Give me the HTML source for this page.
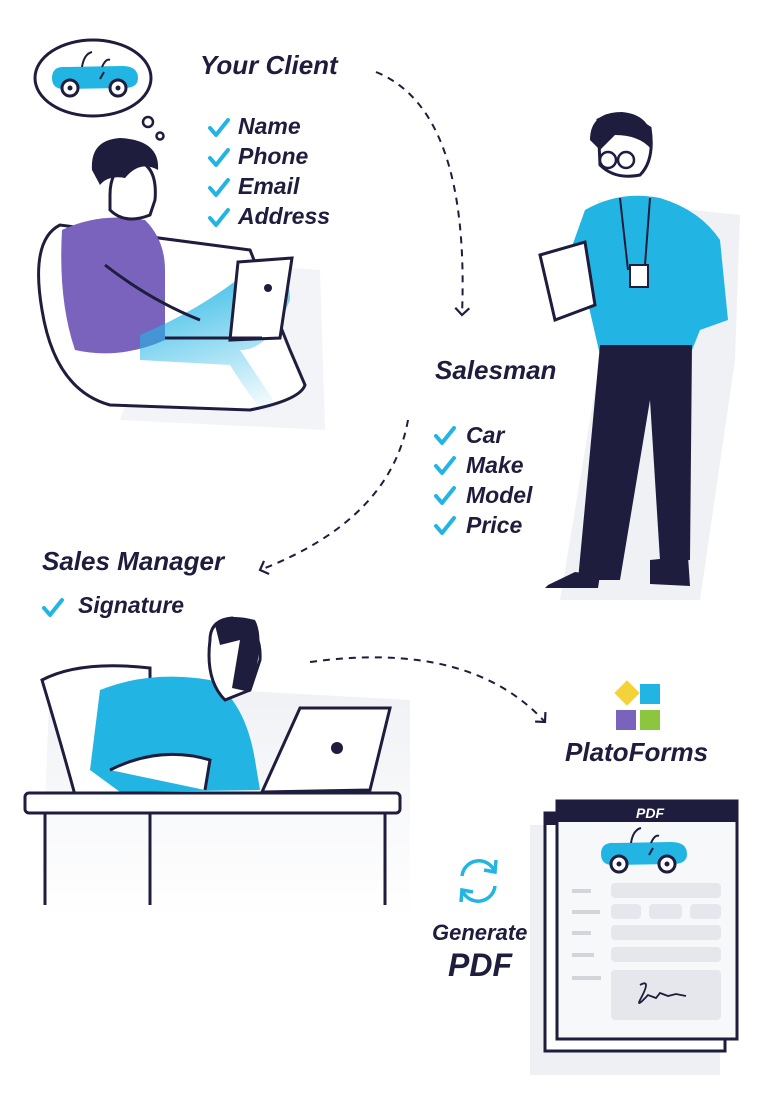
<!DOCTYPE html>
<html><head><meta charset="utf-8"><style>
html,body{margin:0;padding:0;background:#fff;}
svg{display:block}
.t{font-family:"Liberation Sans",sans-serif;font-style:italic;font-weight:bold;fill:#1f1d3d;}
</style></head><body>
<svg width="770" height="1098" viewBox="0 0 770 1098" xmlns="http://www.w3.org/2000/svg">
<defs>
<marker id="ah" markerWidth="20" markerHeight="20" refX="9" refY="9" orient="auto" markerUnits="userSpaceOnUse">
<path d="M2 2 L9 9 L2 16" fill="none" stroke="#1f1d3d" stroke-width="2.2"/></marker>
<linearGradient id="fade" x1="0" y1="0" x2="0" y2="1"><stop offset="0" stop-color="#e9ebf0"/><stop offset="1" stop-color="#fff"/></linearGradient>
<linearGradient id="legfade" x1="0" y1="0" x2="0.3" y2="1"><stop offset="0" stop-color="#22b5e4"/><stop offset="1" stop-color="#22b5e4" stop-opacity="0"/></linearGradient>
<g id="car"><path d="M0 14 Q0 2 14 3 L70 2 Q86 2 86 14 Q86 24 72 24 L12 25 Q0 25 0 14Z" fill="#22b5e4"/>
<circle cx="18" cy="24" r="8" fill="#fff" stroke="#1f1d3d" stroke-width="3"/><circle cx="18" cy="24" r="2.5" fill="#1f1d3d"/>
<circle cx="66" cy="24" r="8" fill="#fff" stroke="#1f1d3d" stroke-width="3"/><circle cx="66" cy="24" r="2.5" fill="#1f1d3d"/>
<path d="M30 3 Q32 -10 40 -12 M50 3 Q54 -6 58 -4 M52 8 L48 15" stroke="#1f1d3d" stroke-width="2" fill="none"/></g>
<g id="chk"><path d="M0 8 L6 15 L18 0" stroke="#22b5e4" stroke-width="4" fill="none" stroke-linecap="round" stroke-linejoin="round"/></g>
</defs>

<!-- shadows -->
<path d="M598 200 L740 215 L735 360 L700 600 L560 600 L600 360Z" fill="#f0f1f5"/>
<path d="M180 260 L320 270 L325 430 L120 420Z" fill="#f3f4f7"/>
<path d="M50 680 L410 700 L410 920 L40 920Z" fill="url(#fade)" opacity="0.7"/>
<rect x="530" y="825" width="190" height="250" fill="#eef0f4"/>

<!-- thought bubble -->
<ellipse cx="93" cy="78" rx="58" ry="38" fill="#fff" stroke="#1f1d3d" stroke-width="3"/>
<circle cx="148" cy="122" r="5" fill="#fff" stroke="#1f1d3d" stroke-width="2.5"/>
<circle cx="160" cy="136" r="3.5" fill="#fff" stroke="#1f1d3d" stroke-width="2.5"/>
<use href="#car" x="52" y="64"/>

<text class="t" x="200" y="74" font-size="26">Your Client</text>
<use href="#chk" x="210" y="120"/><text class="t" x="238" y="134" font-size="23">Name</text>
<use href="#chk" x="210" y="150"/><text class="t" x="238" y="164" font-size="23">Phone</text>
<use href="#chk" x="210" y="180"/><text class="t" x="238" y="194" font-size="23">Email</text>
<use href="#chk" x="210" y="210"/><text class="t" x="238" y="224" font-size="23">Address</text>

<path d="M376 72 Q470 110 462 315" fill="none" stroke="#1f1d3d" stroke-width="2" stroke-dasharray="7 6" marker-end="url(#ah)"/>

<!-- client -->
<path d="M60 225 Q30 240 42 310 Q55 390 110 405 L250 410 Q300 400 305 385 L290 350 L250 250Z" fill="#fff" stroke="#1f1d3d" stroke-width="3"/>
<path d="M62 230 Q100 212 145 220 Q165 240 165 270 L165 340 Q120 360 75 350 Q58 300 62 230Z" fill="#7a63bd"/>
<path d="M140 335 Q200 310 250 270 Q290 260 290 300 Q270 350 240 350 L300 440 Q270 430 230 365 L140 360Z" fill="url(#legfade)"/>
<path d="M238 262 L292 258 L280 338 L230 340Z" fill="#fff" stroke="#1f1d3d" stroke-width="3"/>
<path d="M165 338 L262 338" stroke="#1f1d3d" stroke-width="3"/>
<circle cx="268" cy="288" r="4" fill="#1f1d3d"/>
<path d="M105 265 Q150 300 200 320" stroke="#1f1d3d" stroke-width="3" fill="none"/>
<path d="M110 195 Q110 165 135 160 Q158 165 155 200 L150 215 Q125 225 110 210Z" fill="#fff" stroke="#1f1d3d" stroke-width="3"/>
<path d="M92 170 Q90 140 120 138 Q160 140 158 170 Q140 160 125 178 Q108 175 100 185Z" fill="#1f1d3d"/>

<!-- salesman -->
<path d="M598 120 Q620 108 650 128 Q655 160 640 175 Q615 180 600 165Z" fill="#fff" stroke="#1f1d3d" stroke-width="3"/>
<path d="M590 140 Q590 112 622 112 Q655 115 652 150 Q640 135 615 135 L600 150Z" fill="#1f1d3d"/>
<circle cx="608" cy="160" r="8" fill="#fff" stroke="#1f1d3d" stroke-width="2.5"/><circle cx="626" cy="160" r="8" fill="#fff" stroke="#1f1d3d" stroke-width="2.5"/>
<path d="M585 210 Q620 190 660 198 Q700 210 720 240 L728 320 L700 330 L690 355 L600 355 L585 290 L560 280Z" fill="#22b5e4"/>
<path d="M620 198 L628 270 M650 198 L645 265" stroke="#1f1d3d" stroke-width="2"/>
<rect x="630" y="265" width="18" height="22" fill="#fff" stroke="#1f1d3d" stroke-width="2"/>
<path d="M540 255 L585 242 L595 305 L555 320Z" fill="#fff" stroke="#1f1d3d" stroke-width="3"/>
<path d="M600 345 L692 345 L690 560 L660 560 L650 400 L620 580 L578 580 Z" fill="#1f1d3d"/>
<path d="M548 585 L575 572 L600 575 L598 588 L545 588Z M650 560 L688 556 L690 586 L650 584Z" fill="#1f1d3d"/>

<text class="t" x="435" y="379" font-size="26">Salesman</text>
<use href="#chk" x="436" y="428"/><text class="t" x="466" y="443" font-size="23">Car</text>
<use href="#chk" x="436" y="458"/><text class="t" x="466" y="473" font-size="23">Make</text>
<use href="#chk" x="436" y="488"/><text class="t" x="466" y="503" font-size="23">Model</text>
<use href="#chk" x="436" y="518"/><text class="t" x="466" y="533" font-size="23">Price</text>

<path d="M408 420 Q390 520 260 570" fill="none" stroke="#1f1d3d" stroke-width="2" stroke-dasharray="7 6" marker-end="url(#ah)"/>

<text class="t" x="42" y="570" font-size="26">Sales Manager</text>
<use href="#chk" x="44" y="600"/><text class="t" x="78" y="613" font-size="23">Signature</text>

<!-- manager scene -->
<path d="M42 680 Q80 660 150 668 L150 795 L75 795 Q60 740 42 680Z" fill="#fff" stroke="#1f1d3d" stroke-width="3"/>
<path d="M100 690 Q150 670 210 680 Q245 700 255 760 L260 790 L120 792 L90 770Z" fill="#22b5e4"/>
<path d="M210 640 Q210 620 232 618 Q262 625 260 660 L250 690 L225 700 Q205 680 210 640Z" fill="#fff" stroke="#1f1d3d" stroke-width="3"/>
<path d="M215 625 Q225 612 255 620 Q266 640 250 692 L232 688 L240 640 L220 645Z" fill="#1f1d3d"/>
<path d="M300 708 L390 708 L370 790 L262 792Z" fill="#fff" stroke="#1f1d3d" stroke-width="3"/>
<circle cx="337" cy="748" r="6" fill="#1f1d3d"/>
<path d="M110 770 Q160 745 210 760 L205 790" stroke="#1f1d3d" stroke-width="3" fill="#fff"/>
<rect x="25" y="793" width="375" height="20" rx="4" fill="#fff" stroke="#1f1d3d" stroke-width="3"/>
<path d="M45 813 L45 905 M150 813 L150 905 M385 813 L385 905" stroke="#1f1d3d" stroke-width="3"/>

<path d="M310 662 Q470 640 545 722" fill="none" stroke="#1f1d3d" stroke-width="2" stroke-dasharray="7 6" marker-end="url(#ah)"/>

<!-- logo -->
<rect x="618" y="684" width="18" height="18" fill="#f4d33a" transform="rotate(45 627 693)"/>
<rect x="640" y="684" width="20" height="20" fill="#22b5e4"/>
<rect x="616" y="710" width="20" height="20" fill="#7a63bd"/>
<rect x="640" y="710" width="20" height="20" fill="#8cc63f"/>
<text class="t" x="565" y="761" font-size="26">PlatoForms</text>

<!-- refresh icon -->
<path d="M462 876 A17 17 0 0 1 494 870" fill="none" stroke="#22b5e4" stroke-width="3.5"/>
<path d="M496 860 L495 872 L484 870" fill="none" stroke="#22b5e4" stroke-width="3.5"/>
<path d="M495 886 A17 17 0 0 1 463 892" fill="none" stroke="#22b5e4" stroke-width="3.5"/>
<path d="M461 902 L462 890 L473 892" fill="none" stroke="#22b5e4" stroke-width="3.5"/>
<text class="t" x="432" y="940" font-size="22">Generate</text>
<text class="t" x="448" y="976" font-size="32">PDF</text>

<!-- pdf -->
<rect x="545" y="813" width="180" height="238" fill="#fff" stroke="#1f1d3d" stroke-width="3"/>
<rect x="545" y="813" width="12" height="12" fill="#1f1d3d"/>
<rect x="557" y="801" width="180" height="238" fill="#f7f8fa" stroke="#1f1d3d" stroke-width="3"/>
<rect x="557" y="801" width="180" height="21" fill="#1f1d3d"/>
<text class="t" x="636" y="818" font-size="14" style="fill:#fff">PDF</text>
<use href="#car" x="601" y="840"/>
<g fill="#e6e7ec">
<rect x="611" y="883" width="110" height="15" rx="4"/>
<rect x="611" y="904" width="30" height="15" rx="4"/><rect x="649" y="904" width="33" height="15" rx="4"/><rect x="690" y="904" width="31" height="15" rx="4"/>
<rect x="611" y="925" width="110" height="15" rx="4"/>
<rect x="611" y="947" width="110" height="15" rx="4"/>
<rect x="611" y="970" width="110" height="50" rx="4"/>
</g>
<g fill="#d3d5da">
<rect x="572" y="889" width="19" height="4"/><rect x="572" y="910" width="28" height="4"/><rect x="572" y="931" width="19" height="4"/><rect x="572" y="953" width="22" height="4"/><rect x="572" y="976" width="29" height="4"/>
</g>
<path d="M640 985 Q652 978 640 1000 Q636 1008 648 995 L656 998 L660 993 L668 996 L676 994 L686 996" fill="none" stroke="#1f1d3d" stroke-width="1.8"/>
</svg>
</body></html>
